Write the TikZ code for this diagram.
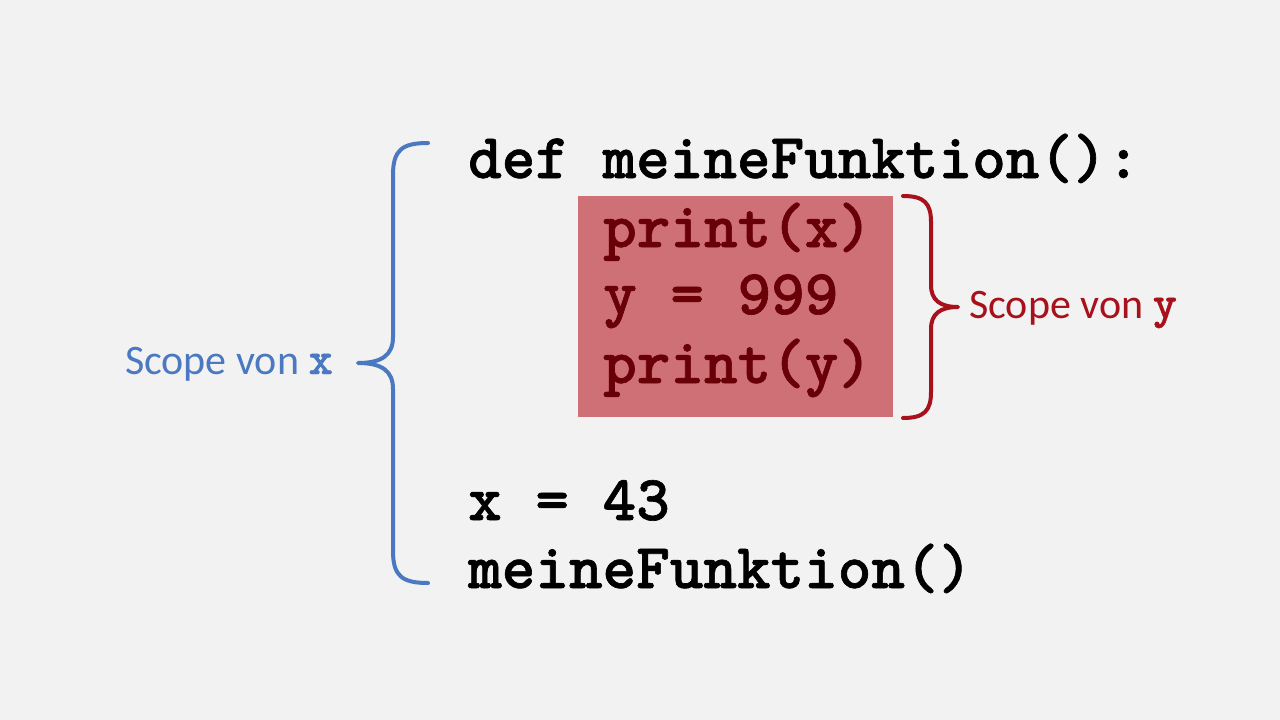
\documentclass[tikz,border=0pt]{standalone}
\usepackage{fontspec}
\newfontfamily\cmono{lmmonolt10-bold}[Extension=.otf,FakeBold=1]
\newfontfamily\lblfont{Carlito}
\definecolor{bgcol}{RGB}{242,242,242}
\definecolor{boxfill}{RGB}{206,112,117}
\definecolor{boxtext}{RGB}{105,0,8}
\definecolor{scopered}{RGB}{168,16,28}
\definecolor{scopeblue}{RGB}{74,120,193}
\tikzset{
  code/.style={inner sep=0pt, anchor=base west, font=\cmono\fontsize{64}{66}\selectfont, text=black},
  incode/.style={code, text=boxtext},
  lbl/.style={inner sep=0pt, font=\lblfont\fontsize{42}{46}\selectfont},
  bracestyle/.style={line width=4pt, line cap=round, line join=round},
}
\begin{document}
\begin{tikzpicture}[x=1pt,y=-1pt]
\fill[bgcol] (0,0) rectangle (1280,720);
\useasboundingbox (0,0) rectangle (1280,720);
% red box
\fill[boxfill] (578,196) rectangle (893,417);
% code
\node[code] (l1) at (468,178) {def meineFunktion():};
\node[incode] (l2) at (603,247) {print(x)};
\node[incode] (l3) at (603,314) {y = 999};
\node[incode] (l4) at (603,383) {print(y)};
\node[code] (l5) at (468,520) {x = 43};
\node[code] (l6) at (468,588) {meineFunktion()};
% blue brace
\draw[bracestyle, scopeblue] (428,143) .. controls (402,143) and (393,150) .. (393,175)
  -- (393,337) .. controls (393,355) and (382,363) .. (358,363)
  .. controls (382,363) and (393,371) .. (393,389)
  -- (393,551) .. controls (393,576) and (402,583) .. (428,583);
\node[lbl, text=scopeblue, anchor=base east] (sx) at (333,374) {Scope von {\cmono\fontsize{46}{46}\selectfont x}};
% red brace
\draw[bracestyle, scopered] (903,196) .. controls (924,196) and (931,203) .. (931,222)
  -- (931,285) .. controls (931,300) and (940,307) .. (958,307)
  .. controls (940,307) and (931,314) .. (931,329)
  -- (931,392) .. controls (931,411) and (924,418) .. (903,418);
\node[lbl, text=scopered, anchor=base west] (sy) at (969,318) {Scope von {\cmono\fontsize{46}{46}\selectfont y}};
\end{tikzpicture}
\end{document}
